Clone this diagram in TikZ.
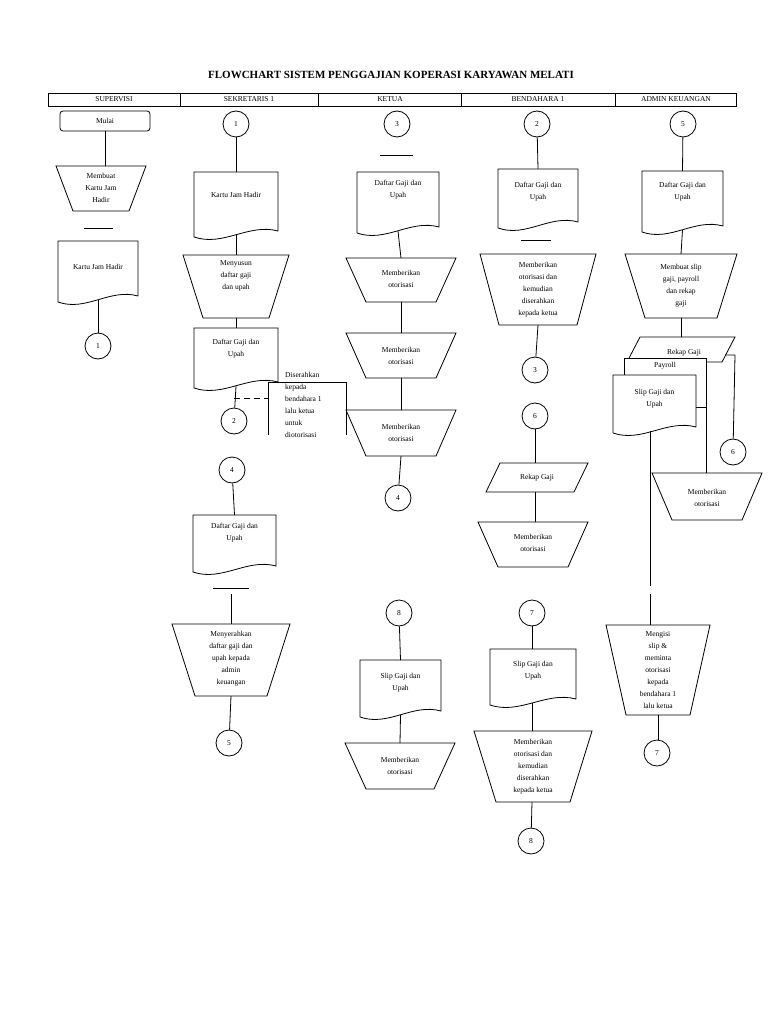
\documentclass[tikz,border=0pt]{standalone}
\usepackage{fontspec}
\setmainfont{Liberation Serif}
\usetikzlibrary{calc}
\tikzset{
  txt/.style={font=\fontsize{7.5}{12}\selectfont, align=center, inner sep=0pt},
  conn/.style={circle, draw, line width=0.8pt, minimum size=26pt, inner sep=0pt, font=\fontsize{7.5}{9}\selectfont},
  shp/.style={draw, line width=0.8pt},
  ln/.style={line width=0.8pt}
}
% document: name, x0,y0,x1,y1 (y1 = bottom of left side), text, text y
\newcommand{\docshape}[7]{%
  \filldraw[shp,fill=white] (#2,#5) -- (#2,#3) -- (#4,#3) -- (#4,#5-6) .. controls ($(#2,#5)!0.65!(#4,#5)+(0,-14)$) and ($(#2,#5)!0.35!(#4,#5)+(0,10)$) .. (#2,#5) -- cycle;
  \coordinate (#1-t) at ($(#2,#3)!0.5!(#4,#3)$);
  \coordinate (#1-b) at ($(#2,#5)!0.5!(#4,#5)+(0,-2)$);
  \node[txt] (#1) at ($(#2,#7)!0.5!(#4,#7)$) {#6};}
% trapezoid: name, cx, ytop, halftop, ybot, halfbot, text, text y
\newcommand{\trapshape}[8]{%
  \draw[shp] (#2-#4,#3) -- (#2+#4,#3) -- (#2+#6,#5) -- (#2-#6,#5) -- cycle;
  \coordinate (#1-t) at (#2,#3);
  \coordinate (#1-b) at (#2,#5);
  \node[txt] (#1) at (#2,#8) {#7};}
% parallelogram: name, x0(bottom left), ytop, x1(top right), ybot, skew, text
\newcommand{\parashape}[7]{%
  \filldraw[shp,fill=white] (#2,#5) -- (#2+#6,#3) -- (#4,#3) -- (#4-#6,#5) -- cycle;
  \coordinate (#1-t) at ($(#2+#6,#3)!0.5!(#4,#3)$);
  \coordinate (#1-b) at ($(#2,#5)!0.5!(#4-#6,#5)$);
  \node[txt] (#1) at ($(#2,#3)!0.5!(#4,#5)$) {#7};}
\begin{document}
\begin{tikzpicture}[x=1pt,y=-1pt]
\useasboundingbox[fill=white] (0,0) rectangle (768,1024);
% title
\node[font=\bfseries\fontsize{11}{13}\selectfont] (title) at (391,75) {FLOWCHART SISTEM PENGGAJIAN KOPERASI KARYAWAN MELATI};
% header
\draw[ln] (48,93) rectangle (736,106);
\foreach \xx in {180,318,461,615} \draw[ln] (\xx,93) -- (\xx,106);
\node[txt] (h1) at (114,99.5) {SUPERVISI};
\node[txt] (h2) at (249,99.5) {SEKRETARIS 1};
\node[txt] (h3) at (390,99.5) {KETUA};
\node[txt] (h4) at (538,99.5) {BENDAHARA 1};
\node[txt] (h5) at (676,99.5) {ADMIN KEUANGAN};

% ---------- SUPERVISI
\node[draw, line width=0.8pt, rounded corners=3pt, minimum width=90pt, minimum height=20pt, txt] (mulai) at (105,121) {Mulai};
\trapshape{memb}{101}{166}{45}{211}{28}{Membuat\\Kartu Jam\\Hadir}{188}
\draw[ln] (mulai.south) -- (mulai.south |- memb-t);
\coordinate (barA1) at (84,228); \coordinate (barA2) at (113,228);
\draw[ln] (barA1) -- (barA2);
\docshape{kjh1}{58}{241}{138}{302}{Kartu Jam Hadir}{267}
\node[conn] (s1) at (98,346) {1};
\draw[ln] (kjh1-b) -- (s1);

% ---------- SEKRETARIS 1
\node[conn] (k1) at (236,124) {1};
\docshape{kjh2}{194}{172}{278}{237}{Kartu Jam Hadir}{195}
\draw[ln] (k1) -- (kjh2-t);
\trapshape{meny}{236}{255}{53}{318}{33}{Menyusun\\daftar gaji\\dan upah}{276}
\draw[ln] (kjh2-b) -- (meny-t);
\docshape{dg1}{194}{328}{278}{388}{Daftar Gaji dan\\Upah}{349}
\draw[ln] (meny-b) -- (dg1-t);
\node[conn] (k2) at (234,421) {2};
\draw[ln] (dg1-b) -- (k2);
\coordinate (dsh1) at (234,398); \coordinate (dsh2) at (268,398);
\draw[ln, dashed, dash pattern=on 6pt off 4pt] (dsh1) -- (dsh2);
\coordinate (br1) at (268,435); \coordinate (br2) at (268,382);
\coordinate (br3) at (346,382); \coordinate (br4) at (346,435);
\draw[ln] (br1) -- (br2) -- (br3) -- (br4);
\node[txt, align=left, anchor=north west] (note) at (285,372) {Diserahkan\\kepada\\bendahara 1\\lalu ketua\\untuk\\diotorisasi};
\node[conn] (k4) at (232,470) {4};
\docshape{dg2}{193}{515}{276}{572}{Daftar Gaji dan\\Upah}{533}
\draw[ln] (k4) -- (dg2-t);
\coordinate (barB1) at (213,588); \coordinate (barB2) at (249,588);
\draw[ln] (barB1) -- (barB2);
\coordinate (barB3) at (231,594);
\trapshape{menye}{231}{624}{59}{696}{36}{Menyerahkan\\daftar gaji dan\\upah kepada\\admin\\keuangan}{659}
\draw[ln] (barB3) -- (menye-t);
\node[conn] (k5) at (229,743) {5};
\draw[ln] (menye-b) -- (k5);

% ---------- KETUA
\node[conn] (t3) at (397,124) {3};
\coordinate (barC1) at (380,155); \coordinate (barC2) at (413,155);
\draw[ln] (barC1) -- (barC2);
\docshape{dg3}{357}{172}{439}{233}{Daftar Gaji dan\\Upah}{190}
\trapshape{ot1}{401}{258}{55}{302}{35}{Memberikan\\otorisasi}{279}
\draw[ln] (dg3-b) -- (ot1-t);
\trapshape{ot2}{401}{333}{55}{378}{35}{Memberikan\\otorisasi}{356}
\draw[ln] (ot1-b) -- (ot2-t);
\trapshape{ot3}{401}{410}{55}{456}{35}{Memberikan\\otorisasi}{433}
\draw[ln] (ot2-b) -- (ot3-t);
\node[conn] (t4) at (398,498) {4};
\draw[ln] (ot3-b) -- (t4);
\node[conn] (t8) at (399,613) {8};
\docshape{sg1}{360}{660}{441}{717}{Slip Gaji dan\\Upah}{683}
\draw[ln] (t8) -- (sg1-t);
\trapshape{ot4}{400}{743}{55}{789}{34}{Memberikan\\otorisasi}{766}
\draw[ln] (sg1-b) -- (ot4-t);

% ---------- BENDAHARA 1
\node[conn] (b2) at (537,124) {2};
\docshape{dg4}{498}{169}{578}{228}{Daftar Gaji dan\\Upah}{192}
\draw[ln] (b2) -- (dg4-t);
\coordinate (barD1) at (521,240); \coordinate (barD2) at (551,240);
\draw[ln] (barD1) -- (barD2);
\trapshape{ot5}{538}{254}{58}{325}{39}{Memberikan\\otorisasi dan\\kemudian\\diserahkan\\kepada ketua}{290}
\node[conn] (b3) at (535,370) {3};
\draw[ln] (ot5-b) -- (b3);
\node[conn] (b6) at (535,416) {6};
\parashape{rk1}{486}{463}{588}{492}{14}{Rekap Gaji}
\draw[ln] (b6) -- (b6 |- rk1-t);
\trapshape{ot6}{533}{522}{55}{567}{35}{Memberikan\\otorisasi}{543}
\draw[ln] (b6 |- rk1-b) -- (b6 |- ot6-t);
\node[conn] (b7) at (532,613) {7};
\docshape{sg2}{490}{649}{576}{705}{Slip Gaji dan\\Upah}{671}
\draw[ln] (b7) -- (b7 |- sg2-t);
\trapshape{ot7}{533}{731}{59}{802}{37}{Memberikan\\otorisasi dan\\kemudian\\diserahkan\\kepada ketua}{767}
\draw[ln] (b7 |- sg2-b) -- (b7 |- ot7-t);
\node[conn] (b8) at (531,841) {8};
\draw[ln] (b7 |- ot7-b) -- (b8);

% ---------- ADMIN KEUANGAN
\node[conn] (a5) at (683,124) {5};
\docshape{dg5}{642}{171}{723}{232}{Daftar Gaji dan\\Upah}{192}
\draw[ln] (a5) -- (dg5-t);
\trapshape{mk}{681}{254}{56}{318}{36}{Membuat slip\\gaji, payroll\\dan rekap\\gaji}{286}
\draw[ln] (dg5-b) -- (mk-t);
\parashape{rk2}{627}{337}{735}{362}{13}{}
\node[txt] (rk2t) at (684,353) {Rekap Gaji};
\draw[ln] (mk-b) -- (mk-b |- rk2-t);
\node[conn] (a6) at (733,452) {6};
\coordinate (rkr) at (725,355); \coordinate (rkc) at (735,355);
\draw[ln] (rkr) -- (rkc) -- (a6);
\filldraw[shp,fill=white] (624,420) -- (624,358) -- (706,358) -- (706,420);
\node[txt] (pay) at (665,366) {Payroll};
\trapshape{ot8}{707}{473}{55}{520}{35}{Memberikan\\otorisasi}{498}
\coordinate (payb) at (706,358);
\draw[ln] (payb) -- (payb |- ot8-t);
\docshape{sg3}{613}{375}{696}{433}{Slip Gaji dan\\Upah}{399}
\coordinate (sgr) at (696,407); \coordinate (sgp) at (706,407);
\draw[ln] (sgr) -- (sgp);
\trapshape{mg}{658}{625}{52}{715}{32}{Mengisi\\slip \&\\meminta\\otorisasi\\kepada\\bendahara 1\\lalu ketua}{670}
\coordinate (sgx) at (650,431); \coordinate (gap1) at (650,586); \coordinate (gap2) at (650,594);
\draw[ln] (sgx) -- (gap1);
\draw[ln] (gap2) -- (gap2 |- mg-t);
\node[conn] (a7) at (657,753) {7};
\draw[ln] (mg-b) -- (mg-b |- a7.north);
\end{tikzpicture}
\end{document}
